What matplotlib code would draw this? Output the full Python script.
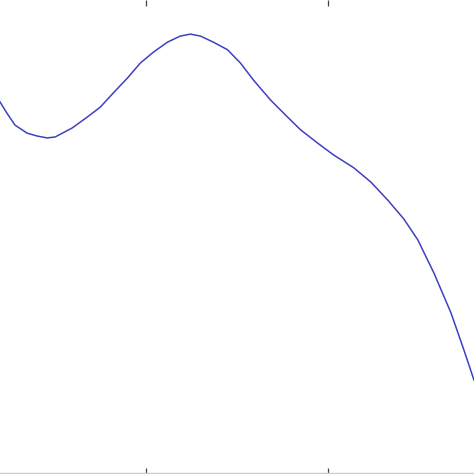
import matplotlib
matplotlib.use('Agg')
import matplotlib.pyplot as plt

# curve values (arbitrary units)
x_vals = [0.193, 0.230, 0.276, 0.343, 0.398, 0.453, 0.497, 0.591, 0.674, 0.746,
          0.818, 0.895, 0.967, 1.039, 1.116, 1.188, 1.243, 1.298, 1.370, 1.448,
          1.519, 1.591, 1.685, 1.779, 1.851, 1.945, 2.033, 2.144, 2.238, 2.331,
          2.420, 2.497, 2.586, 2.680, 2.751, 2.807]
y_vals = [7.85, 7.62, 7.36, 7.19, 7.13, 7.09, 7.11, 7.30, 7.53, 7.74,
          8.04, 8.35, 8.67, 8.90, 9.11, 9.24, 9.28, 9.24, 9.11, 8.95,
          8.67, 8.31, 7.89, 7.53, 7.26, 6.98, 6.73, 6.46, 6.16, 5.78,
          5.38, 4.94, 4.24, 3.40, 2.62, 1.98]
x_ticks = [1, 2]

fig = plt.figure(figsize=(4.74, 4.74), dpi=100)
ax = fig.add_axes([0, 0, 1, 1])

ax.plot(x_vals, y_vals, color='#4040c4', linewidth=1.1)

ax.set_xlim(x_vals[0], x_vals[-1])
ax.set_ylim(0, 10)
ax.set_xticks(x_ticks)
ax.set_xticklabels([])
ax.set_yticks([])
ax.tick_params(axis='x', direction='in', top=True, bottom=True,
               length=4.5, width=0.9, color='#444444')

for side in ['top', 'left', 'right']:
    ax.spines[side].set_visible(False)
ax.spines['bottom'].set_color('#cccccc')
ax.spines['bottom'].set_linewidth(2.5)

fig.savefig('out.png', dpi=100)
